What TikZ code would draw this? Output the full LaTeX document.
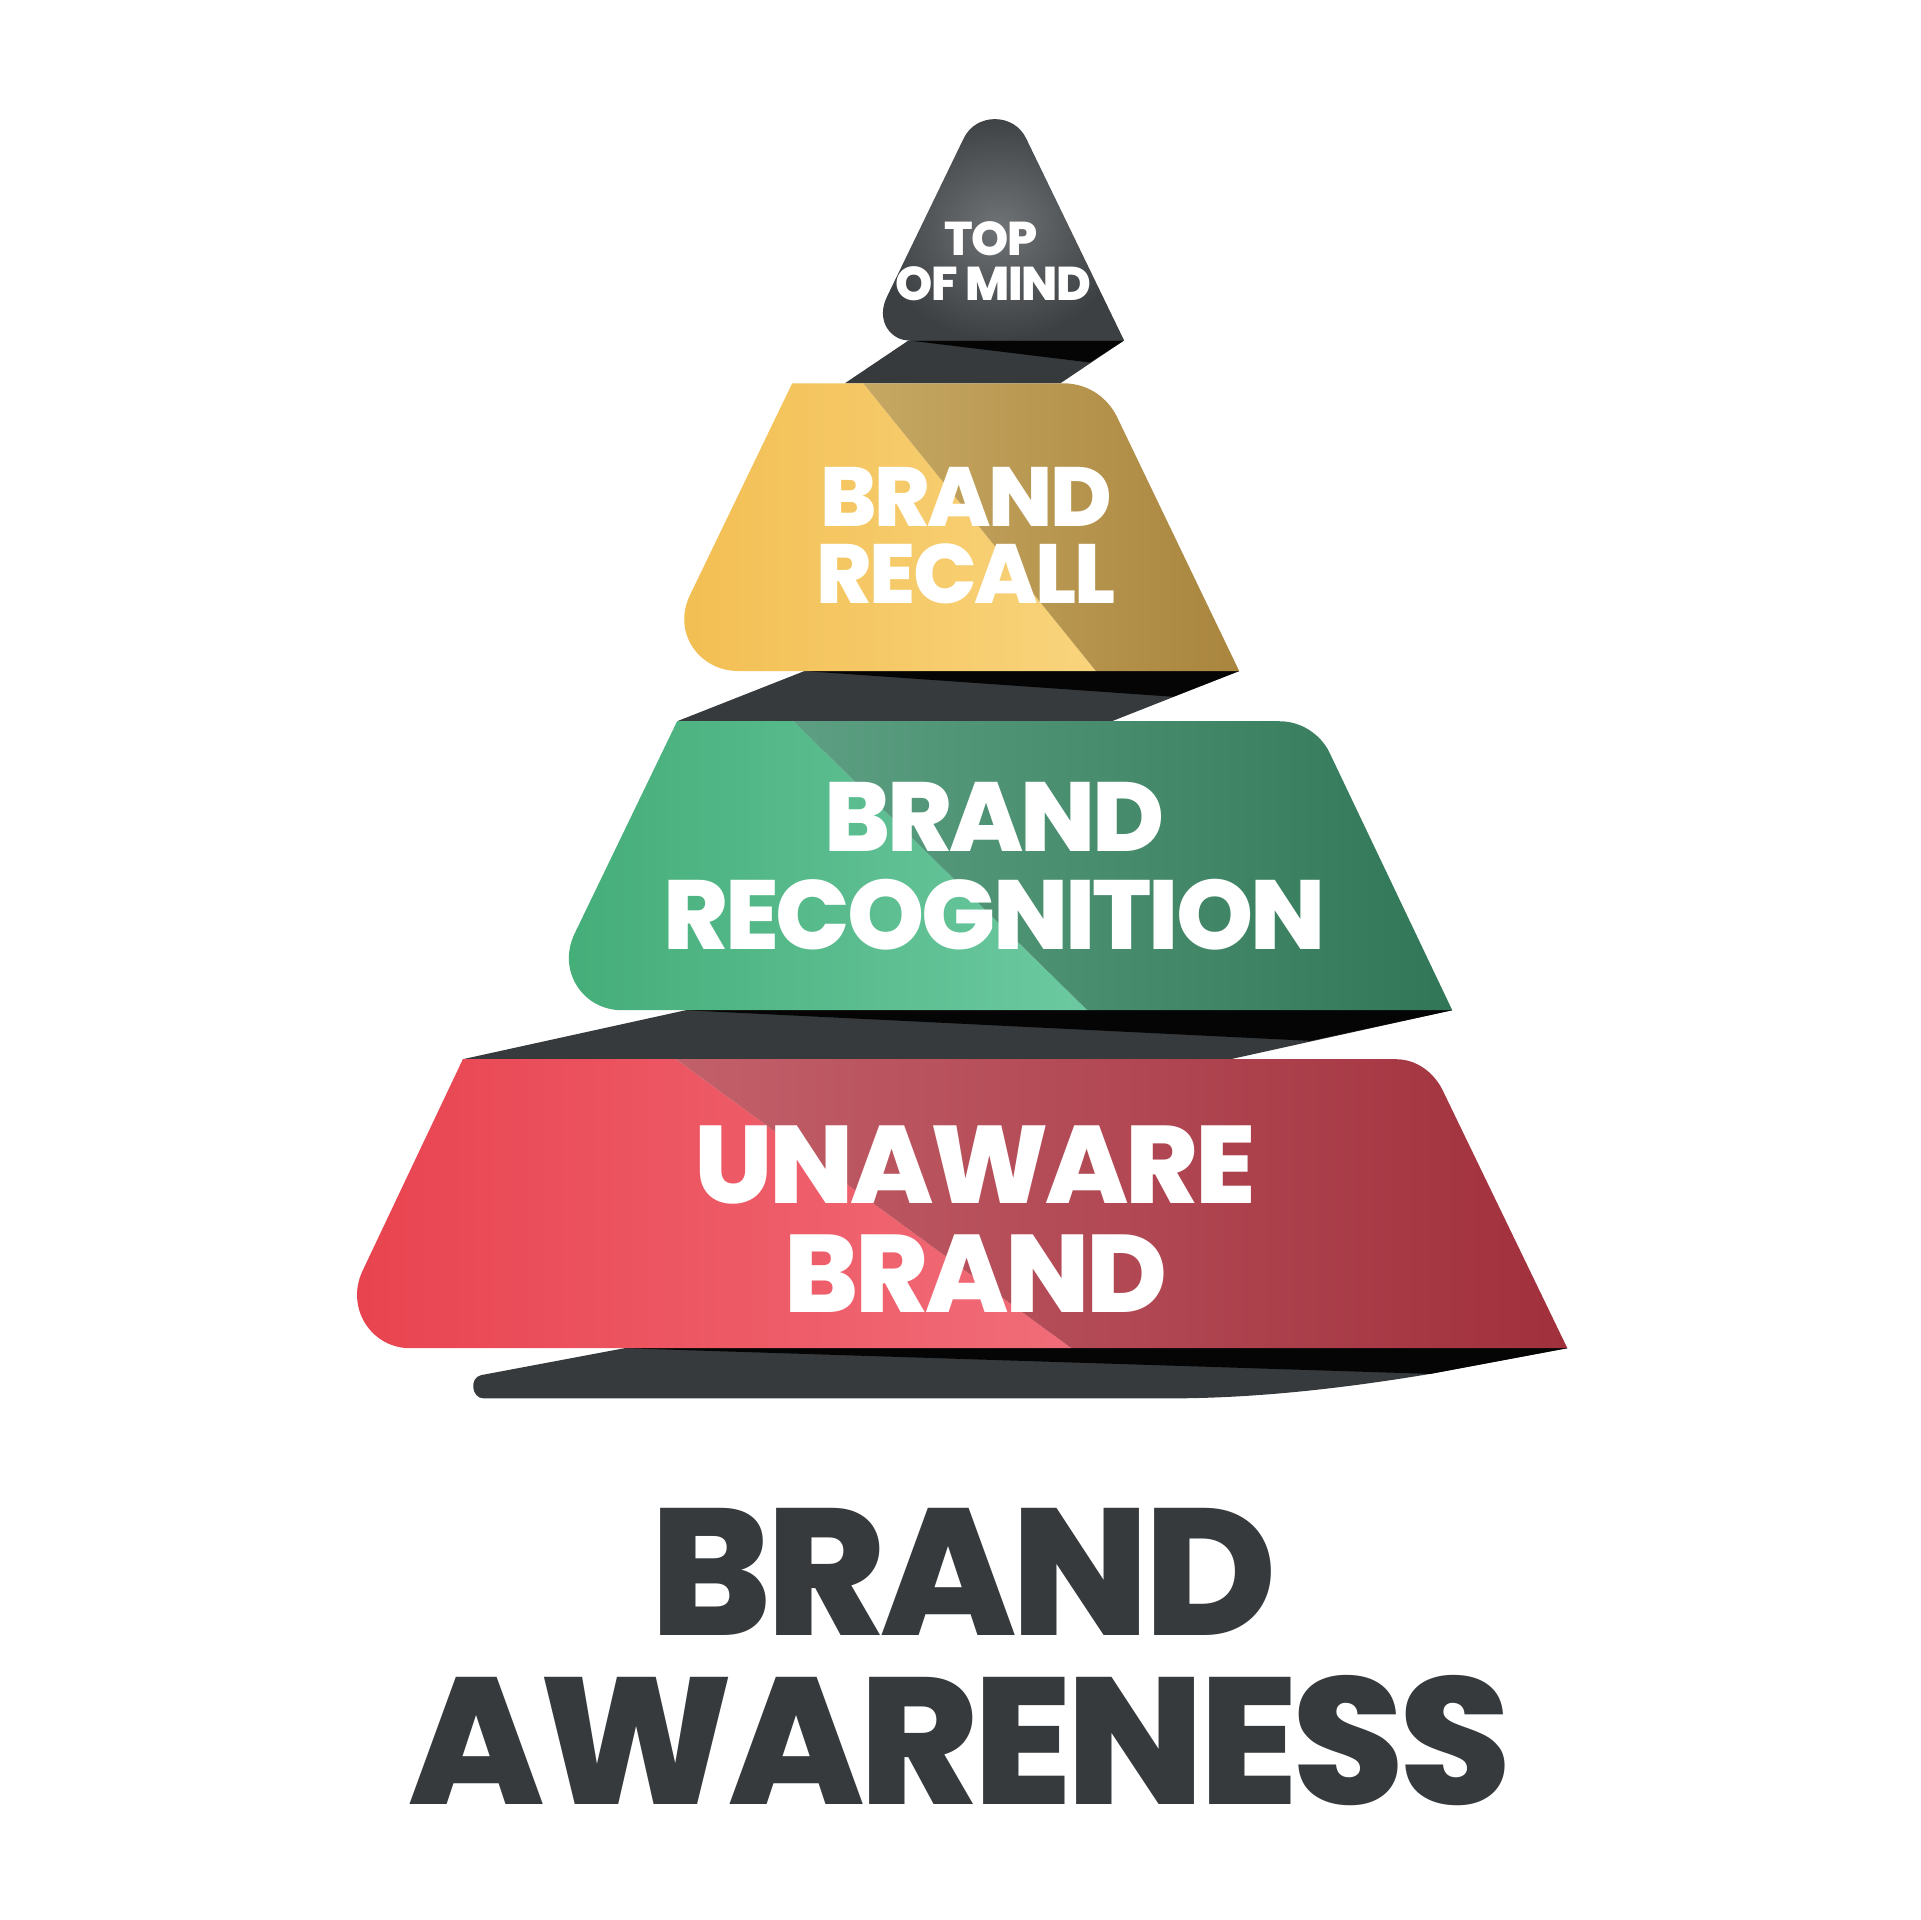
\documentclass[tikz,border=0pt]{standalone}
\usepackage{fontspec}
\IfFontExistsTF{Poppins ExtraBold}
  {\newfontfamily\popfont{Poppins ExtraBold}[LetterSpace=-3]}
  {\newfontfamily\popfont{Poppins}[UprightFont={* Bold}, LetterSpace=-1]}
\definecolor{shadowgray}{HTML}{363A3D}
\definecolor{wedge}{HTML}{050505}
\definecolor{yelA}{HTML}{F2BE52}
\definecolor{yelB}{HTML}{F9D47C}
\definecolor{yelC}{HTML}{C6A862}
\definecolor{yelD}{HTML}{A9853E}
\definecolor{grnA}{HTML}{44AD78}
\definecolor{grnB}{HTML}{6CC9A1}
\definecolor{grnC}{HTML}{5C9F82}
\definecolor{grnD}{HTML}{317757}
\definecolor{redA}{HTML}{E8434F}
\definecolor{redB}{HTML}{F16D79}
\definecolor{redC}{HTML}{C2606A}
\definecolor{redD}{HTML}{A0303C}
\definecolor{topA}{HTML}{707375}
\definecolor{topB}{HTML}{3C4043}

\begin{document}
\begin{tikzpicture}[x=0.01cm, y=-0.01cm,
    tiertext/.style={text=white, font=\popfont\fontsize{#1}{#1}\selectfont, anchor=base, inner sep=0pt},
    titletext/.style={text=shadowgray, font=\popfont\fontsize{41.9}{41.9}\selectfont, anchor=base, inner sep=0pt}]
\fill[white] (0,0) rectangle (1568,1568);
\useasboundingbox (0,0) rectangle (1568,1568);

% shadows under the tiers
\fill[shadowgray] (742,278) -- (918,278) -- (866,313) -- (690,313) -- cycle;
\fill[wedge] (742,278) -- (918,278) -- (890,296) -- cycle;
\fill[shadowgray] (657,548) -- (1012,548) -- (908,589) -- (553,589) -- cycle;
\fill[wedge] (657,548) -- (1012,548) -- (958,569) -- cycle;
\fill[shadowgray] (560,825) -- (1186,825) -- (1005,865) -- (378,865) -- cycle;
\fill[wedge] (560,825) -- (1186,825) -- (1070,850) -- cycle;
\fill[shadowgray] (510,1101) -- (1280,1101) -- (1168,1122) .. controls (1090,1135) and (1020,1142) .. (955,1142)
    -- (395,1142) .. controls (385,1142) and (383,1125) .. (393,1123) -- cycle;
\fill[wedge] (510,1101) -- (1280,1101) -- (1168,1122) -- cycle;

% top of mind
\shade[inner color=topA, outer color=topB] (742,278) -- (918,278) -- (838,113) .. controls (828,92) and (797,92) .. (787,113)
    -- (725,241) .. controls (714,262) and (728,278) .. (742,278) -- cycle;

% brand recall
\shade[left color=yelA, right color=yelB] (647,313) -- (705,313) -- (895,548) -- (603,548)
    .. controls (572,548) and (549,518) .. (563,487) -- cycle;
\shade[left color=yelC, right color=yelD] (705,313) -- (868,313) .. controls (890,313) and (905,326) .. (912,340)
    -- (1012,548) -- (895,548) -- cycle;

% brand recognition
\shade[left color=grnA, right color=grnB] (553,589) -- (648,589) -- (888,825) -- (508,825)
    .. controls (476,825) and (455,793) .. (469,763) -- cycle;
\shade[left color=grnC, right color=grnD] (648,589) -- (1045,589) .. controls (1063,589) and (1078,600) .. (1085,613)
    -- (1186,825) -- (888,825) -- cycle;

% unaware brand
\shade[left color=redA, right color=redB] (378,865) -- (552,865) -- (875,1101) -- (335,1101)
    .. controls (303,1101) and (282,1068) .. (296,1038) -- cycle;
\shade[left color=redC, right color=redD] (552,865) -- (1140,865) .. controls (1157,865) and (1171,876) .. (1178,890)
    -- (1280,1101) -- (875,1101) -- cycle;

\node[tiertext=11] (1) at (809,209) {TOP};
\node[tiertext=11] (2) at (811,245) {OF MIND};
\node[tiertext=19.5] (3) at (789,430) {BRAND};
\node[tiertext=19.5] (4) at (789,493) {RECALL};
\node[tiertext=22.8] (5) at (812,695) {BRAND};
\node[tiertext=22.8] (6) at (812,775) {RECOGNITION};
\node[tiertext=25.6] (7) at (796,983) {UNAWARE};
\node[tiertext=25.6] (8) at (797,1072) {BRAND};
\node[titletext] (9) at (787,1336) {BRAND};
\node[titletext] (10) at (784,1474) {AWARENESS};
\end{tikzpicture}
\end{document}
